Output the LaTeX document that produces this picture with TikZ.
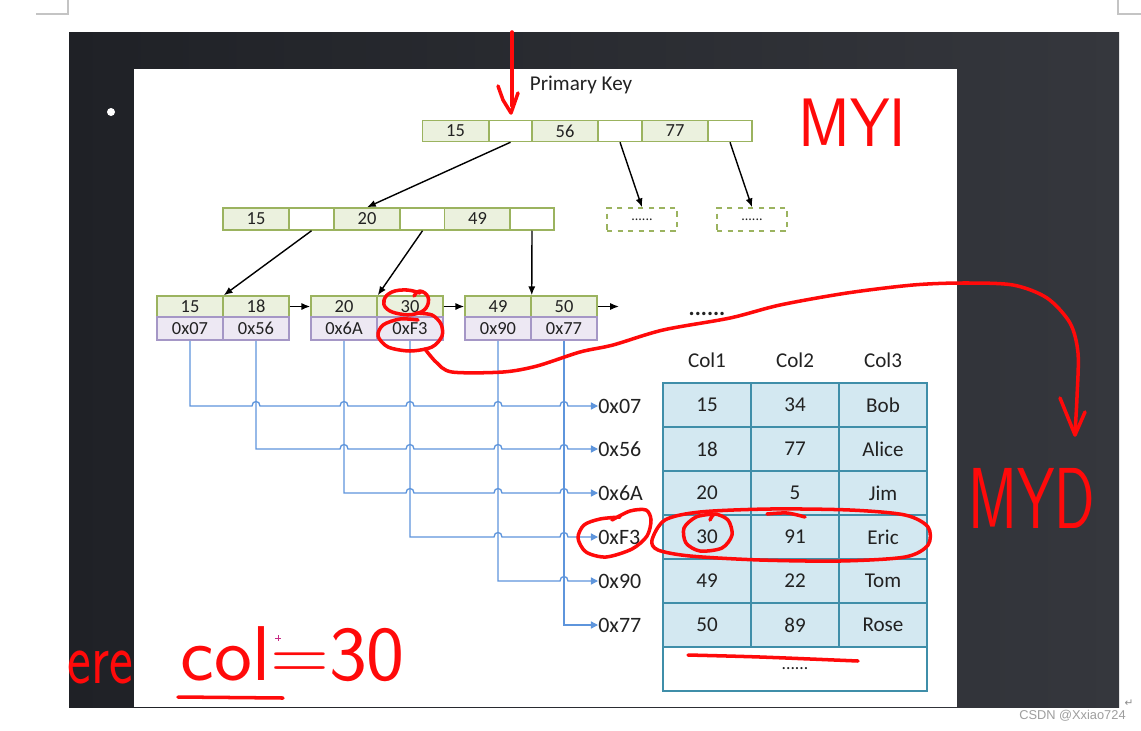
\documentclass[tikz,border=0pt]{standalone}
\usepackage{fontspec}
\setmainfont{Carlito}
\newfontfamily\wmfont{Liberation Sans}
\newfontfamily\djv{DejaVu Sans}
\usetikzlibrary{arrows.meta,calc}
\definecolor{keyfill}{HTML}{EBF1DE}
\definecolor{keydraw}{HTML}{9BB35F}
\definecolor{addrfill}{HTML}{EDE8F3}
\definecolor{addrdraw}{HTML}{A597C6}
\definecolor{linkblue}{HTML}{5E95DC}
\definecolor{tabfill}{HTML}{D3E8F1}
\definecolor{tabdraw}{HTML}{3F8EA9}
\definecolor{ink}{HTML}{FF0A0A}
\definecolor{txt}{HTML}{222222}
\definecolor{darkL}{HTML}{1F2126}
\definecolor{darkR}{HTML}{35373D}
\definecolor{cornergray}{HTML}{C4C4C4}
\begin{document}
\begin{tikzpicture}[x=0.02cm,y=-0.02cm,
  cell/.style={draw=keydraw, line width=0.85pt, inner sep=0pt, text=txt,
    font=\fontsize{10.5}{12}\selectfont},
  keycell/.style={cell, fill=keyfill, minimum width=1.32cm, minimum height=0.42cm},
  ptrcell/.style={cell, fill=white, minimum height=0.42cm},
  addrcell/.style={cell, draw=addrdraw, fill=addrfill, minimum width=1.32cm, minimum height=0.46cm},
  dashbox/.style={draw=keydraw, dashed, line width=0.85pt, inner sep=0pt, minimum width=1.4cm,
    minimum height=0.46cm, font=\fontsize{8}{8}\selectfont, text=txt},
  barr/.style={draw=black, line width=0.8pt, -{Latex[length=5pt,width=4pt]}},
  blink/.style={draw=linkblue, line width=0.75pt, -{Triangle[length=4pt,width=4pt]}},
  addr/.style={inner sep=0pt, anchor=west, text=txt, font=\fontsize{12.5}{14}\selectfont},
  tcell/.style={draw=tabdraw, fill=tabfill, line width=1pt, inner sep=0pt, minimum width=1.76cm,
    minimum height=0.88cm, text=txt, font=\fontsize{12}{14}\selectfont},
  hdr/.style={inner sep=0pt, text=txt, font=\fontsize{12}{14}\selectfont},
  ink/.style={draw=ink, line width=2pt, line cap=round, line join=round},
  hand/.style={inner sep=0pt, text=ink, anchor=base west}
]
\useasboundingbox (0,0) rectangle (1141,730);
\fill[white] (0,0) rectangle (1141,730);
% page corner marks
\draw[cornergray, line width=0.6pt] (36,14) -- (68,14) -- (68,0);
\draw[cornergray, line width=0.6pt] (1118,0) -- (1118,14) -- (1141,14);
% dark slide background
\shade[left color=darkL, right color=darkR] (69,32) rectangle (1119,707);
\fill[white] (134,69) rectangle (957,707);
\fill[white] (111,112) circle[radius=4];

% title
\node[font=\fontsize{12}{14}\selectfont, text=txt] (pk) at (581,85) {Primary Key};

% root
\node[keycell] (r1) at (455.5,131) {15};
\node[ptrcell, minimum width=0.86cm] (r2) at (510.5,131) {};
\node[keycell] (r3) at (565,131) {56};
\node[ptrcell, minimum width=0.88cm] (r4) at (620,131) {};
\node[keycell] (r5) at (675,131) {77};
\node[ptrcell, minimum width=0.88cm] (r6) at (730,131) {};

% middle level
\node[keycell, minimum height=0.44cm] (m1) at (256,219) {15};
\node[ptrcell, minimum width=0.9cm, minimum height=0.44cm] (m2) at (311.5,219) {};
\node[keycell, minimum height=0.44cm] (m3) at (367,219) {20};
\node[ptrcell, minimum width=0.9cm, minimum height=0.44cm] (m4) at (422.5,219) {};
\node[keycell, minimum height=0.44cm] (m5) at (477.5,219) {49};
\node[ptrcell, minimum width=0.88cm, minimum height=0.44cm] (m6) at (532,219) {};
\node[dashbox] (d1) at (642,219.5) {......};
\node[dashbox] (d2) at (752,219.5) {......};

% leaves
\node[keycell] (l1a) at (190,306.5) {15};
\node[keycell] (l1b) at (256,306.5) {18};
\node[keycell] (l2a) at (344,306.5) {20};
\node[keycell] (l2b) at (410,306.5) {30};
\node[keycell] (l3a) at (498,306.5) {49};
\node[keycell] (l3b) at (564,306.5) {50};
\node[addrcell] (p1a) at (190,328.5) {0x07};
\node[addrcell] (p1b) at (256,328.5) {0x56};
\node[addrcell] (p2a) at (344,328.5) {0x6A};
\node[addrcell] (p2b) at (410,328.5) {0xF3};
\node[addrcell] (p3a) at (498,328.5) {0x90};
\node[addrcell] (p3b) at (564,328.5) {0x77};
\coordinate (lend) at (619,306.5);
\node[text=txt, font=\fontsize{13}{13}\selectfont\bfseries] (more) at (707,314) {......};

% tree arrows
\draw[barr] (r2.south) -- (m3.north);
\draw[barr] (r4.south) -- (d1.north);
\draw[barr] (r6.south) -- (d2.north);
\draw[barr] (m2.south) -- (l1a.north east);
\draw[barr] (m4.south) -- (l2a.north east);
\draw[barr] (m6.south) -- (l3a.north east);
\draw[barr] (l1b.east) -- (l2a.west);
\draw[barr] (l2b.east) -- (l3a.west);
\draw[barr] (l3b.east) -- (lend);

% address labels
\node[addr] (a07) at (598,406) {0x07};
\node[addr] (a56) at (598,449) {0x56};
\node[addr] (a6A) at (598,493) {0x6A};
\node[addr] (aF3) at (598,537) {0xF3};
\node[addr] (a90) at (598,581) {0x90};
\node[addr] (a77) at (598,625) {0x77};

% blue connectors with line hops
\draw[blink] (p1a.south) -- (p1a.south |- a07.west)
  \foreach \v in {p1b,p2a,p2b,p3a,p3b}{ -- ($(\v.south |- a07.west)+(-4,0)$) .. controls +(0,-6) and +(0,-6) .. ($(\v.south |- a07.west)+(4,0)$)} -- (a07.west);
\draw[blink] (p1b.south) -- (p1b.south |- a56.west)
  \foreach \v in {p2a,p2b,p3a,p3b}{ -- ($(\v.south |- a56.west)+(-4,0)$) .. controls +(0,-6) and +(0,-6) .. ($(\v.south |- a56.west)+(4,0)$)} -- (a56.west);
\draw[blink] (p2a.south) -- (p2a.south |- a6A.west)
  \foreach \v in {p2b,p3a,p3b}{ -- ($(\v.south |- a6A.west)+(-4,0)$) .. controls +(0,-6) and +(0,-6) .. ($(\v.south |- a6A.west)+(4,0)$)} -- (a6A.west);
\draw[blink] (p2b.south) -- (p2b.south |- aF3.west)
  \foreach \v in {p3a,p3b}{ -- ($(\v.south |- aF3.west)+(-4,0)$) .. controls +(0,-6) and +(0,-6) .. ($(\v.south |- aF3.west)+(4,0)$)} -- (aF3.west);
\draw[blink] (p3a.south) -- (p3a.south |- a90.west)
  \foreach \v in {p3b}{ -- ($(\v.south |- a90.west)+(-4,0)$) .. controls +(0,-6) and +(0,-6) .. ($(\v.south |- a90.west)+(4,0)$)} -- (a90.west);
\draw[blink] (p3b.south) |- (a77.west);

% table
\node[hdr] (h1) at (707,360) {Col1};
\node[hdr] (h2) at (795,360) {Col2};
\node[hdr] (h3) at (883,360) {Col3};
\foreach \r/\y/\a/\b/\c in {1/405/15/34/Bob, 2/449/18/77/Alice, 3/493/20/5/Jim,
    4/537/30/91/Eric, 5/581/49/22/Tom, 6/625/50/89/Rose}{
  \node[tcell] (t\r a) at (707,\y) {\a};
  \node[tcell] (t\r b) at (795,\y) {\b};
  \node[tcell] (t\r c) at (883,\y) {\c};
}
\node[tcell, fill=white, minimum width=5.28cm, font=\fontsize{10}{10}\selectfont] (tlast) at (795,669) {......};

% watermark
\node[font=\wmfont\fontsize{7.3}{8}\selectfont, text=black!38, anchor=east, inner sep=0pt] (wm) at (1126,716) {CSDN @Xxiao724};
\node[font=\djv\fontsize{6}{6}\selectfont, text=black!45, inner sep=0pt] (ret) at (1129,703) {↵};

% ---- red handwritten annotations ----
\draw[ink] (512,32) -- (512,106);
\draw[ink] (498,86) -- (503,100) -- (511,113) -- (518,93);
\draw[ink] plot[smooth, tension=0.7] coordinates {(414,296)(420,291)(428,297)(426,308)(415,314)(400,314)(387,309)(384,300)(392,292)(407,290)(420,293)};
\draw[ink] plot[smooth] coordinates {(416,313)(432,315)(441,324)(442,336)(432,347)(410,351)(388,347)(378,336)(383,325)(400,319)(418,320)};
\draw[ink] plot[smooth] coordinates {(425,349)(436,362)(452,372)(503,372)(537,366)(580,352)(613,345)(663,330)(730,318)(780,305)(847,293)(913,285)(963,283)(1013,285)(1047,298)(1070,323)(1078,353)(1077,397)(1075,433)};
\draw[ink] (1060,398) -- (1075,435) -- (1085,412);
\draw[ink] plot[smooth] coordinates {(612,520)(630,511)(646,510)(651,520)(647,536)(632,549)(606,557)(586,552)(578,538)(584,525)(600,519)(620,517)};
\draw[ink] plot[smooth] coordinates {(767,514)(787,513)(805,517)};
\draw[ink] plot[smooth cycle] coordinates {(652,540)(665,520)(700,512)(770,509)(850,510)(905,515)(928,527)(928,545)(905,557)(840,561)(760,560)(690,556)(658,550)};
\draw[ink] plot[smooth] coordinates {(710,520)(715,514)(728,520)(732,535)(722,548)(700,551)(686,543)(684,528)(696,517)(713,514)};
\draw[ink] plot[smooth] coordinates {(688,655)(760,657)(858,661)};
\draw[ink] (178,697) -- (283,698);
\draw[magenta!80!black, line width=0.5pt] (275,638) -- (281,638) (278,635) -- (278,641);

\node[hand, font=\sffamily\fontsize{30}{32}\selectfont, xscale=1.2, yscale=1.3] (myi) at (798,146) {MYI};
\node[hand, font=\sffamily\fontsize{34}{36}\selectfont, yscale=1.45] (myd) at (968,528) {MYD};
\node[hand, font=\sffamily\fontsize{34}{36}\selectfont, xscale=1.35, yscale=1.3] (colx) at (180,680) {col=30};
\node[hand, font=\sffamily\fontsize{28}{30}\selectfont, xscale=1.15, yscale=1.5] (ere) at (67,683) {ere};
\end{tikzpicture}
\end{document}
